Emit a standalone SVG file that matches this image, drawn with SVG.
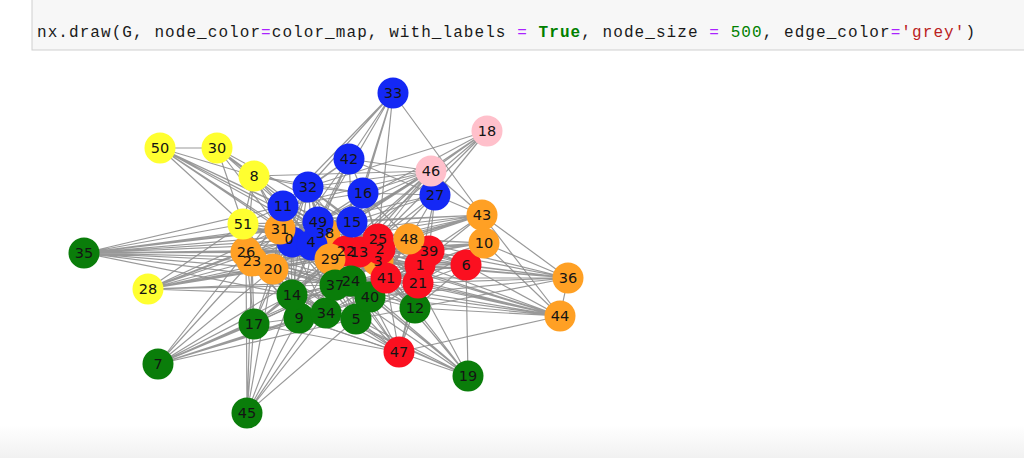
<svg xmlns="http://www.w3.org/2000/svg" width="1024" height="458" viewBox="0 0 1024 458">
<defs>
<linearGradient id="fade" x1="0" y1="0" x2="0" y2="1">
<stop offset="0" stop-color="#ffffff"/>
<stop offset="1" stop-color="#f1f1f1"/>
</linearGradient>
</defs>
<style>
.e{fill:none;stroke:#8e8e8e;stroke-width:1.2;stroke-opacity:0.9}
.n circle{r:15.5px}
.lb text{font-family:"DejaVu Sans",sans-serif;font-size:14.5px;fill:#141414;text-anchor:middle}
.B circle{fill:#1428f5}
.R circle{fill:#fb1020}
.G circle{fill:#0a7d0a}
.O circle{fill:#ffa024}
.Y circle{fill:#ffff30}
.P circle{fill:#ffc0cb}
.code{font-family:"Liberation Mono",monospace;font-size:16px;fill:#1a1a1a}
</style>
<rect x="0" y="0" width="1024" height="458" fill="#ffffff"/>
<rect x="0" y="425" width="1024" height="33" fill="url(#fade)"/>
<rect x="32" y="-2" width="1000" height="52" fill="#f7f7f7" stroke="#cfcfcf" stroke-width="1"/>
<text class="code" x="37" y="37" textLength="938" lengthAdjust="spacing">nx.draw(G, node_color<tspan fill="#aa22ff">=</tspan>color_map, with_labels <tspan fill="#aa22ff">=</tspan> <tspan fill="#008000" font-weight="bold">True</tspan>, node_size <tspan fill="#aa22ff">=</tspan> <tspan fill="#008000">500</tspan>, edge_color<tspan fill="#aa22ff">=</tspan><tspan fill="#ba2121">'grey'</tspan>)</text>
<g id="edges">
<path class="e" d="M393 93L308 187M393 93L283 206M393 93L318 222M393 93L349 159M393 93L363 193M393 93L352 222M393 93L378 239M393 93L482 215"/>
<path class="e" d="M487 131L308 187M487 131L431 171M487 131L435 195M487 131L352 222M487 131L318 222M487 131L378 239M487 131L346 251"/>
<path class="e" d="M160 148L217 148M160 148L254 176M160 148L243 224M160 148L280 229M160 148L318 222M160 148L330 259M160 148L346 251M160 148L283 206M160 148L325 233"/>
<path class="e" d="M217 148L254 176M217 148L243 224M217 148L280 229M217 148L283 206M217 148L318 222M217 148L352 222M217 148L325 233"/>
<path class="e" d="M254 176L243 224M254 176L283 206M254 176L308 187M254 176L280 229M254 176L291 240M254 176L363 193M254 176L431 171M254 176L246 252"/>
<path class="e" d="M84 253L243 224M84 253L283 206M84 253L280 229M84 253L246 252M84 253L252 261M84 253L273 269M84 253L330 259M84 253L346 251M84 253L359 252M84 253L325 233M84 253L352 222M84 253L291 240M84 253L313 243M84 253L292 295M84 253L335 285M84 253L318 222M84 253L380 249M84 253L409 239"/>
<path class="e" d="M148 289L243 224M148 289L246 252M148 289L252 261M148 289L273 269M148 289L330 259M148 289L346 251M148 289L351 281M148 289L335 285M148 289L291 240M148 289L280 229M148 289L318 222M148 289L359 252M148 289L370 297M148 289L378 239"/>
<path class="e" d="M158 364L246 252M158 364L252 261M158 364L273 269M158 364L292 295M158 364L254 324M158 364L330 259M158 364L335 285M158 364L299 318M158 364L326 313M158 364L351 281M158 364L370 297M158 364L356 319"/>
<path class="e" d="M247 413L254 324M247 413L252 261M247 413L273 269M247 413L292 295M247 413L299 318M247 413L326 313M247 413L335 285M247 413L351 281M247 413L246 252M247 413L356 319"/>
<path class="e" d="M399 352L415 308M399 352L370 297M399 352L356 319M399 352L326 313M399 352L299 318M399 352L292 295M399 352L254 324M399 352L560 316M399 352L418 283M399 352L420 265M399 352L386 278M399 352L351 281M399 352L330 259M399 352L273 269M399 352L335 285"/>
<path class="e" d="M468 376L415 308M468 376L418 283M468 376L466 265M468 376L386 278M468 376L370 297M468 376L356 319M468 376L351 281M468 376L335 285M468 376L330 259M468 376L378 261M468 376L326 313M468 376L299 318M468 376L292 295"/>
<path class="e" d="M568 278L560 316M568 278L484 243M568 278L482 215M568 278L466 265M568 278L420 265M568 278L418 283M568 278L429 251M568 278L409 239M568 278L378 261M568 278L370 297M568 278L415 308M568 278L330 259M568 278L346 251M568 278L386 278"/>
<path class="e" d="M560 316L484 243M560 316L482 215M560 316L420 265M560 316L418 283M560 316L386 278M560 316L415 308M560 316L370 297M560 316L351 281M560 316L466 265M560 316L378 261M560 316L330 259M560 316L335 285M560 316L359 252"/>
<path class="e" d="M482 215L431 171M482 215L435 195M482 215L409 239M482 215L429 251M482 215L420 265M482 215L378 239M482 215L380 249M482 215L359 252M482 215L346 251M482 215L352 222M482 215L318 222M482 215L330 259M482 215L325 233M482 215L313 243"/>
<path class="e" d="M484 243L466 265M484 243L429 251M484 243L409 239M484 243L420 265M484 243L418 283M484 243L386 278M484 243L378 261M484 243L380 249M484 243L378 239M484 243L359 252M484 243L330 259M484 243L346 251"/>
<path class="e" d="M466 265L420 265M466 265L429 251M466 265L418 283M466 265L409 239M466 265L378 239M466 265L380 249M466 265L386 278M466 265L415 308M466 265L346 251M466 265L330 259M466 265L351 281"/>
<path class="e" d="M431 171L435 195M431 171L363 193M431 171L352 222M431 171L318 222M431 171L325 233M431 171L330 259M431 171L346 251M431 171L308 187M431 171L349 159M431 171L283 206M431 171L359 252M431 171L378 239M431 171L313 243"/>
<path class="e" d="M349 159L308 187M349 159L363 193M349 159L283 206M349 159L352 222M349 159L318 222M349 159L435 195M349 159L291 240M349 159L313 243"/>
<path class="e" d="M435 195L363 193M435 195L352 222M435 195L409 239M435 195L378 239M435 195L429 251M435 195L380 249M435 195L420 265M435 195L318 222"/>
<path class="e" d="M254 324L292 295M254 324L299 318M254 324L273 269M254 324L246 252M254 324L252 261M254 324L335 285M254 324L330 259M254 324L243 224M254 324L291 240M254 324L346 251"/>
<path class="e" d="M415 308L386 278M415 308L418 283M415 308L370 297M415 308L356 319M415 308L351 281M415 308L420 265"/>
<path class="e" d="M308 187L283 206M308 187L318 222M308 187L352 222M308 187L363 193M308 187L280 229M308 187L291 240M308 187L313 243M308 187L325 233M308 187L330 259M308 187L346 251M308 187L359 252M308 187L378 239M308 187L273 269M308 187L292 295"/>
<path class="e" d="M363 193L352 222M363 193L318 222M363 193L283 206M363 193L291 240M363 193L313 243M363 193L325 233M363 193L346 251M363 193L359 252M363 193L380 249M363 193L378 239M363 193L409 239M363 193L330 259M363 193L351 281"/>
<path class="e" d="M283 206L318 222M283 206L280 229M283 206L291 240M283 206L313 243M283 206L243 224M283 206L246 252M283 206L252 261M283 206L273 269M283 206L330 259M283 206L325 233M283 206L346 251M283 206L352 222"/>
<path class="e" d="M243 224L280 229M243 224L246 252M243 224L252 261M243 224L273 269M243 224L291 240M243 224L313 243M243 224L318 222M243 224L330 259M243 224L325 233M243 224L292 295M243 224L346 251"/>
<path class="e" d="M352 222L318 222M352 222L325 233M352 222L313 243M352 222L291 240M352 222L346 251M352 222L359 252M352 222L378 239M352 222L380 249M352 222L409 239M352 222L330 259M352 222L351 281M352 222L335 285M352 222L386 278M352 222L378 261"/>
<path class="e" d="M318 222L280 229M318 222L291 240M318 222L313 243M318 222L325 233M318 222L330 259M318 222L346 251M318 222L359 252M318 222L378 239M318 222L273 269M318 222L292 295M318 222L335 285M318 222L351 281"/>
<path class="e" d="M280 229L291 240M280 229L246 252M280 229L252 261M280 229L273 269M280 229L330 259M280 229L292 295M280 229L335 285M280 229L351 281M280 229L346 251"/>
<path class="e" d="M246 252L252 261M246 252L273 269M246 252L291 240M246 252L313 243M246 252L330 259M246 252L292 295M246 252L299 318M246 252L335 285M246 252L351 281M246 252L346 251M246 252L359 252M246 252L370 297"/>
<path class="e" d="M252 261L273 269M252 261L330 259M252 261L292 295M252 261L299 318M252 261L326 313M252 261L335 285M252 261L351 281M252 261L291 240M252 261L313 243M252 261L346 251"/>
<path class="e" d="M273 269L292 295M273 269L299 318M273 269L326 313M273 269L335 285M273 269L330 259M273 269L291 240M273 269L313 243M273 269L325 233M273 269L346 251M273 269L351 281M273 269L370 297M273 269L356 319"/>
<path class="e" d="M291 240L313 243M291 240L325 233M291 240L330 259M291 240L346 251M291 240L359 252M291 240L292 295M291 240L335 285M291 240L351 281M291 240L299 318M291 240L326 313M291 240L370 297M291 240L356 319M291 240L386 278"/>
<path class="e" d="M313 243L325 233M313 243L330 259M313 243L346 251M313 243L359 252M313 243L380 249M313 243L378 239M313 243L335 285M313 243L351 281M313 243L292 295M313 243L299 318M313 243L326 313M313 243L370 297M313 243L378 261"/>
<path class="e" d="M325 233L330 259M325 233L346 251M325 233L359 252M325 233L378 239M325 233L380 249M325 233L378 261M325 233L335 285M325 233L351 281M325 233L370 297M325 233L409 239"/>
<path class="e" d="M330 259L346 251M330 259L359 252M330 259L335 285M330 259L351 281M330 259L292 295M330 259L299 318M330 259L326 313M330 259L356 319M330 259L370 297M330 259L386 278M330 259L378 261M330 259L380 249M330 259L378 239M330 259L409 239M330 259L429 251M330 259L420 265M330 259L418 283M330 259L415 308"/>
<path class="e" d="M346 251L359 252M346 251L380 249M346 251L378 239M346 251L378 261M346 251L386 278M346 251L351 281M346 251L335 285M346 251L370 297M346 251L409 239M346 251L429 251M346 251L420 265M346 251L418 283M346 251L356 319M346 251L326 313M346 251L415 308M346 251L292 295"/>
<path class="e" d="M359 252L380 249M359 252L378 239M359 252L378 261M359 252L386 278M359 252L351 281M359 252L370 297M359 252L409 239M359 252L429 251M359 252L420 265M359 252L418 283M359 252L415 308M359 252L356 319"/>
<path class="e" d="M378 239L380 249M378 239L409 239M378 239L429 251M378 239L420 265M378 239L378 261M378 239L386 278M378 239L418 283M378 239L351 281M378 239L370 297"/>
<path class="e" d="M380 249L378 261M380 249L386 278M380 249L409 239M380 249L429 251M380 249L420 265M380 249L418 283M380 249L370 297M380 249L415 308M380 249L351 281"/>
<path class="e" d="M378 261L386 278M378 261L420 265M378 261L418 283M378 261L370 297M378 261L351 281M378 261L335 285M378 261L415 308M378 261L356 319"/>
<path class="e" d="M409 239L429 251M409 239L420 265M409 239L418 283M409 239L386 278M409 239L370 297M409 239L415 308M409 239L351 281"/>
<path class="e" d="M429 251L420 265M429 251L418 283M429 251L386 278M429 251L370 297M429 251L415 308"/>
<path class="e" d="M420 265L418 283M420 265L386 278M420 265L370 297M420 265L351 281M420 265L335 285"/>
<path class="e" d="M418 283L386 278M418 283L370 297M418 283L351 281M418 283L335 285M418 283L356 319"/>
<path class="e" d="M386 278L370 297M386 278L351 281M386 278L335 285M386 278L356 319M386 278L326 313M386 278L299 318M386 278L292 295"/>
<path class="e" d="M351 281L335 285M351 281L370 297M351 281L356 319M351 281L326 313M351 281L299 318M351 281L292 295"/>
<path class="e" d="M335 285L370 297M335 285L356 319M335 285L326 313M335 285L299 318M335 285L292 295"/>
<path class="e" d="M292 295L299 318M292 295L326 313M292 295L356 319M292 295L370 297M299 318L326 313M299 318L356 319M326 313L356 319M326 313L370 297M370 297L356 319"/>
</g>
<g id="nodes">
<g id="n3" class="n O"><circle cx="378" cy="261"/></g>
<g id="n0" class="n B"><circle cx="292" cy="242"/></g>
<g id="n31" class="n O"><circle cx="280" cy="229"/></g>
<g id="n38" class="n O"><circle cx="325" cy="233"/></g>
<g id="n4" class="n B"><circle cx="312" cy="245"/></g>
<g id="n13" class="n R"><circle cx="359" cy="252"/></g>
<g id="n22" class="n R"><circle cx="346" cy="251"/></g>
<g id="n29" class="n O"><circle cx="330" cy="259"/></g>
<g id="n1" class="n R"><circle cx="420" cy="265"/></g>
<g id="n2" class="n R"><circle cx="380" cy="249"/></g>
<g id="n5" class="n G"><circle cx="356" cy="319"/></g>
<g id="n6" class="n R"><circle cx="466" cy="265"/></g>
<g id="n7" class="n G"><circle cx="158" cy="364"/></g>
<g id="n8" class="n Y"><circle cx="254" cy="176"/></g>
<g id="n9" class="n G"><circle cx="299" cy="318"/></g>
<g id="n10" class="n O"><circle cx="484" cy="243"/></g>
<g id="n11" class="n B"><circle cx="283" cy="206"/></g>
<g id="n12" class="n G"><circle cx="415" cy="308"/></g>
<g id="n14" class="n G"><circle cx="292" cy="295"/></g>
<g id="n15" class="n B"><circle cx="352" cy="222"/></g>
<g id="n16" class="n B"><circle cx="363" cy="193"/></g>
<g id="n17" class="n G"><circle cx="254" cy="324"/></g>
<g id="n18" class="n P"><circle cx="487" cy="131"/></g>
<g id="n19" class="n G"><circle cx="468" cy="376"/></g>
<g id="n20" class="n O"><circle cx="273" cy="269"/></g>
<g id="n21" class="n R"><circle cx="418" cy="283"/></g>
<g id="n23" class="n O"><circle cx="252" cy="261"/></g>
<g id="n24" class="n G"><circle cx="351" cy="281"/></g>
<g id="n25" class="n R"><circle cx="378" cy="239"/></g>
<g id="n26" class="n O"><circle cx="246" cy="252"/></g>
<g id="n27" class="n B"><circle cx="435" cy="195"/></g>
<g id="n28" class="n Y"><circle cx="148" cy="289"/></g>
<g id="n30" class="n Y"><circle cx="217" cy="148"/></g>
<g id="n32" class="n B"><circle cx="308" cy="187"/></g>
<g id="n33" class="n B"><circle cx="393" cy="93"/></g>
<g id="n34" class="n G"><circle cx="326" cy="313"/></g>
<g id="n35" class="n G"><circle cx="84" cy="253"/></g>
<g id="n36" class="n O"><circle cx="568" cy="278"/></g>
<g id="n37" class="n G"><circle cx="335" cy="285"/></g>
<g id="n39" class="n R"><circle cx="429" cy="251"/></g>
<g id="n40" class="n G"><circle cx="370" cy="297"/></g>
<g id="n41" class="n R"><circle cx="386" cy="278"/></g>
<g id="n42" class="n B"><circle cx="349" cy="159"/></g>
<g id="n43" class="n O"><circle cx="482" cy="215"/></g>
<g id="n44" class="n O"><circle cx="560" cy="316"/></g>
<g id="n45" class="n G"><circle cx="247" cy="413"/></g>
<g id="n46" class="n P"><circle cx="431" cy="171"/></g>
<g id="n47" class="n R"><circle cx="399" cy="352"/></g>
<g id="n48" class="n O"><circle cx="409" cy="239"/></g>
<g id="n49" class="n B"><circle cx="318" cy="222"/></g>
<g id="n50" class="n Y"><circle cx="160" cy="148"/></g>
<g id="n51" class="n Y"><circle cx="243" cy="224"/></g>
</g>
<g id="labels" class="lb">
<text x="378" y="266">3</text>
<text x="289" y="244">0</text>
<text x="311" y="247">4</text>
<text x="325" y="238">38</text>
<text x="420" y="270">1</text>
<text x="380" y="254">2</text>
<text x="356" y="324">5</text>
<text x="466" y="270">6</text>
<text x="158" y="369">7</text>
<text x="254" y="181">8</text>
<text x="299" y="323">9</text>
<text x="484" y="248">10</text>
<text x="283" y="211">11</text>
<text x="415" y="313">12</text>
<text x="359" y="257">13</text>
<text x="292" y="300">14</text>
<text x="352" y="227">15</text>
<text x="363" y="198">16</text>
<text x="254" y="329">17</text>
<text x="487" y="136">18</text>
<text x="468" y="381">19</text>
<text x="273" y="274">20</text>
<text x="418" y="288">21</text>
<text x="346" y="256">22</text>
<text x="252" y="266">23</text>
<text x="351" y="286">24</text>
<text x="378" y="244">25</text>
<text x="246" y="257">26</text>
<text x="435" y="200">27</text>
<text x="148" y="294">28</text>
<text x="330" y="264">29</text>
<text x="217" y="153">30</text>
<text x="280" y="234">31</text>
<text x="308" y="192">32</text>
<text x="393" y="98">33</text>
<text x="326" y="318">34</text>
<text x="84" y="258">35</text>
<text x="568" y="283">36</text>
<text x="335" y="290">37</text>
<text x="429" y="256">39</text>
<text x="370" y="302">40</text>
<text x="386" y="283">41</text>
<text x="349" y="164">42</text>
<text x="482" y="220">43</text>
<text x="560" y="321">44</text>
<text x="247" y="418">45</text>
<text x="431" y="176">46</text>
<text x="399" y="357">47</text>
<text x="409" y="244">48</text>
<text x="318" y="227">49</text>
<text x="160" y="153">50</text>
<text x="243" y="229">51</text>
</g>
</svg>
